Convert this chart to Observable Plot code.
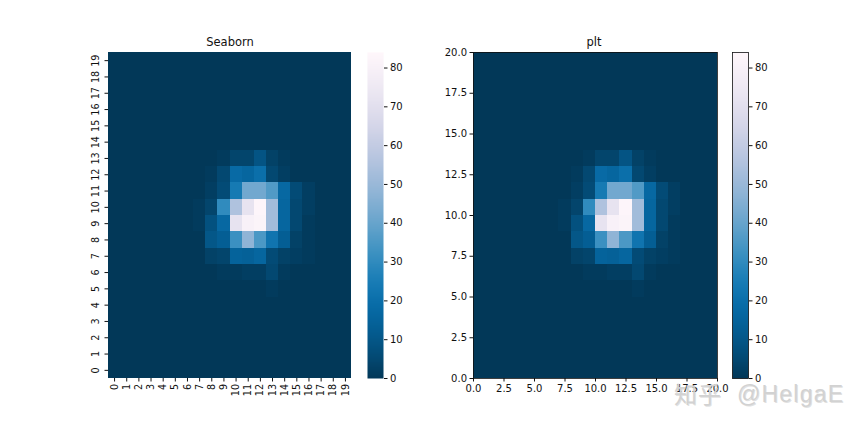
<!DOCTYPE html>
<html><head><meta charset="utf-8">
<script src="https://cdn.jsdelivr.net/npm/d3@7"></script>
<script src="https://cdn.jsdelivr.net/npm/@observablehq/plot@0.6"></script>
<style>
html,body{margin:0;padding:0;background:#fff;width:864px;height:432px;overflow:hidden}
#chart{position:relative;width:864px;height:432px;font-family:"DejaVu Sans",sans-serif;color:#111}
#chart svg{position:absolute;background:transparent}
.title{position:absolute;font-size:11.5px;transform:translateX(-50%);white-space:nowrap}
.mark{position:absolute;color:#d2d2d2;white-space:nowrap;text-shadow:1px 1px 0 rgba(170,170,170,.35);pointer-events:none}
.markA{font-size:23px;letter-spacing:1px;font-family:"Noto Sans CJK SC",sans-serif}
.markB{font-size:23px;letter-spacing:1.2px;font-family:"Liberation Sans",sans-serif}
</style></head><body><div id="chart"></div>
<script>
const indices = [0,1,2,3,4,5,6,7,8,9,10,11,12,13,14,15,16,17,18,19];
const plainTicks = [0,2.5,5,7.5,10,12.5,15,17.5,20];
const barTicks = [0,10,20,30,40,50,60,70,80];
const valueMax = 84;
const activeCols = [7,8,9,10,11,12,13,14,15,16];
const row13 = [0,0,1,4,4,9,3,1,0,0];
const row12 = [0,1,5,18,16,20,5,2,0,0];
const row11 = [0,2,6,24,42,42,36,17,6,2];
const row10 = [1,4,30,55,72,83,52,16,5,2];
const row9  = [1,8,17,72,80,82,52,16,5,1];
const row8  = [0,10,13,32,48,35,22,13,3,1];
const row7  = [0,3,4,15,14,16,6,3,2,1];
const row6  = [0,0,1,1,2,2,5,1,0,0];
const row5  = [0,0,0,0,0,0,1,0,0,0];
const rowIds = [13,12,11,10,9,8,7,6,5];
const rowValues = [row13,row12,row11,row10,row9,row8,row7,row6,row5];

const lookup = new Map();
rowIds.forEach((r,i)=>activeCols.forEach((c,j)=>lookup.set(r+"-"+c,rowValues[i][j])));
const cells = indices.flatMap(r=>indices.map(c=>({r,c,v:lookup.get(r+"-"+c)||0})));

const colorOpt = {type:"linear",scheme:"PuBu",reverse:true,domain:[0,valueMax]};
const root = document.getElementById("chart");
function place(svg,l,t){svg.style.left=l+"px";svg.style.top=t+"px";root.appendChild(svg);}
const T = 52, H = 326, PADT = 10, PADB = 50, PADL = 40, PADR = 40;
const common = {height:H+PADT+PADB,marginTop:PADT,marginBottom:PADB,marginLeft:PADL,marginRight:PADR,
  style:{fontFamily:"DejaVu Sans",fontSize:"10px",color:"#111",background:"transparent",overflow:"visible"}};

// Seaborn heatmap
place(Plot.plot({...common,width:243+PADL+PADR,
  style:{...common.style,fontSize:"9.6px"},
  x:{type:"band",domain:indices,padding:0,round:false,label:null},
  y:{type:"band",domain:[...indices].reverse(),padding:0,round:false,label:null},
  color:colorOpt,
  marks:[
    Plot.cell(cells,{x:"c",y:"r",fill:"v",shapeRendering:"crispEdges"}),
    Plot.axisX({anchor:"bottom",tickSize:3.5,tickPadding:2,tickRotate:-90,label:null,stroke:"#111",fill:"#111"}),
    Plot.axisY({anchor:"left",tickSize:3.5,tickPadding:6,tickRotate:-90,label:null,stroke:"#111",fill:"#111"})
  ]}),108-PADL,T-PADT);

function colorbar(left,framed){
  const marks=[
    Plot.raster({x1:0,x2:1,y1:0,y2:valueMax,width:1,height:336,imageRendering:"auto",fill:(x,y)=>y}),
    Plot.axisY(barTicks,{anchor:"right",tickSize:3.5,tickPadding:3,label:null,stroke:"#111",fill:"#111"})
  ];
  if(framed) marks.push(Plot.frame({stroke:"#111",strokeWidth:0.8}));
  place(Plot.plot({...common,width:16+PADL+PADR,
    x:{domain:[0,1],axis:null},y:{domain:[0,valueMax],label:null},color:colorOpt,marks}),left-PADL,T-PADT);
}
colorbar(367,false);

// plt heatmap
place(Plot.plot({...common,width:244+PADL+PADR,
  x:{domain:[0,20],label:null},
  y:{domain:[0,20],label:null},
  color:colorOpt,
  marks:[
    Plot.rect(cells,{x1:"c",x2:d=>d.c+1,y1:"r",y2:d=>d.r+1,fill:"v",shapeRendering:"crispEdges"}),
    Plot.frame({stroke:"#111",strokeWidth:0.8}),
    Plot.axisX(plainTicks,{anchor:"bottom",tickSize:3.5,tickPadding:3,tickFormat:d3.format(".1f"),label:null,stroke:"#111",fill:"#111"}),
    Plot.axisY(plainTicks,{anchor:"left",tickSize:3.5,tickPadding:3,tickFormat:d3.format(".1f"),label:null,stroke:"#111",fill:"#111"})
  ]}),473-PADL,T-PADT);
colorbar(732,true);

function addText(cls,txt,l,t){const d=document.createElement("div");d.className=cls;d.textContent=txt;d.style.left=l+"px";d.style.top=t+"px";root.appendChild(d);}
addText("title","Seaborn",230,35);
addText("title","plt",594,35);
addText("mark markA","知乎",674,376);
addText("mark markB","@HelgaE",737,381);
</script></body></html>
